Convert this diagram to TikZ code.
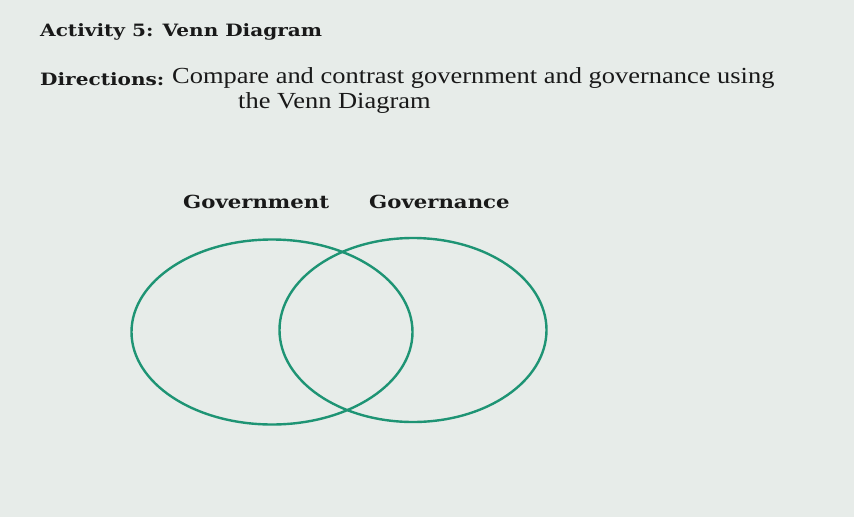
\documentclass[tikz,border=0pt]{standalone}
\usepackage{fontspec}
\setmainfont[FakeStretch=1.15]{Liberation Serif}
\newfontfamily\headfont[FakeStretch=1.18]{DejaVu Serif}
\usetikzlibrary{shapes.geometric}
\definecolor{paper}{RGB}{231,236,233}
\definecolor{venngreen}{RGB}{30,148,116}
\definecolor{ink}{RGB}{25,25,25}
\tikzstyle{heading} = [anchor=base west, inner sep=0, text=ink,
    font=\headfont\bfseries\fontsize{17}{20}\selectfont]
\tikzstyle{bodytext} = [anchor=base west, inner sep=0, text=ink,
    font=\fontsize{23}{27}\selectfont]
\tikzstyle{setlabel} = [anchor=base west, inner sep=0, text=ink,
    font=\headfont\bfseries\fontsize{18}{21}\selectfont]
\tikzstyle{vennset} = [draw=venngreen, line width=2.4pt, ellipse,
    inner sep=0, outer sep=0]

\begin{document}
\begin{tikzpicture}[x=1pt,y=-1pt]
\fill[paper] (0,0) rectangle (854,517);
\useasboundingbox (0,0) rectangle (854,517);
\node[heading] (title) at (40,36) {Activity 5: Venn Diagram};
\node[heading] (dirlabel) at (40,85) {Directions:};
\node[bodytext] (dirtext) at (172,83) {Compare and contrast government and governance using};
\node[bodytext] (dirtext2) at (238,108) {the Venn Diagram};
\node[setlabel] (govt) at (183,208) {Government};
\node[setlabel] (gvnc) at (369,208) {Governance};
\node[vennset, minimum width=281, minimum height=185] (setA) at (272,332) {};
\node[vennset, minimum width=267, minimum height=184] (setB) at (413,330) {};
\end{tikzpicture}
\end{document}
